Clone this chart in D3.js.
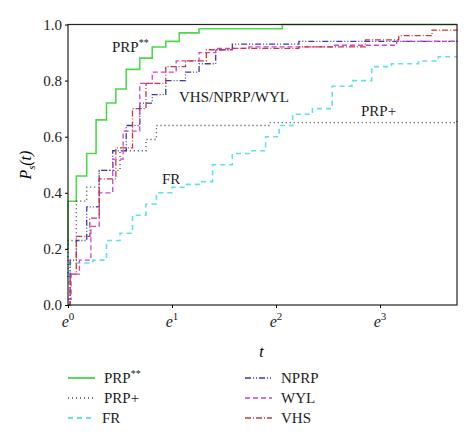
<!DOCTYPE html>
<html><head><meta charset="utf-8">
<script src="https://cdn.jsdelivr.net/npm/d3@7"></script>
<style>body{margin:0;background:#fff}text{font-family:"Liberation Serif","DejaVu Serif",serif}</style>
</head><body><svg id="chart"></svg>
<script>
// ln(t) values, and P_s(t) values
var prpX = [0,0,0.08,0.18,0.27,0.37,0.46,0.56,0.69,0.81,0.94,1.07,1.26,2.06,3.74];
var prpY = [0.2,0.37,0.46,0.54,0.66,0.72,0.77,0.84,0.88,0.92,0.94,0.97,0.985,1.0,1.0];
var plusX = [0,0,0.08,0.18,0.30,0.5,0.75,0.85,1.93,3.74];
var plusY = [0.1,0.23,0.37,0.42,0.48,0.55,0.59,0.64,0.65,0.657];
var frX = [0,0.02,0.08,0.24,0.37,0.5,0.62,0.75,0.85,1.0,1.13,1.26,1.39,1.52,1.58,1.77,1.9,2.03,2.16,2.35,2.54,2.73,2.92,3.11,3.37,3.56,3.74];
var frY = [0.08,0.15,0.15,0.16,0.23,0.256,0.32,0.36,0.4,0.42,0.43,0.44,0.5,0.5,0.54,0.55,0.6,0.64,0.68,0.7,0.78,0.8,0.85,0.86,0.87,0.885,0.885];
var nprpX = [0,0.02,0.08,0.18,0.30,0.43,0.56,0.69,0.81,0.94,1.13,1.26,1.42,1.58,2.22,3.16,3.74];
var nprpY = [0,0.16,0.23,0.35,0.48,0.55,0.64,0.72,0.75,0.8,0.83,0.86,0.91,0.93,0.94,0.94,0.945];
var wylX = [0,0.03,0.11,0.22,0.30,0.43,0.53,0.69,0.81,1.04,1.26,1.42,1.74,2.54,3.16,3.74];
var wylY = [0.02,0.11,0.16,0.28,0.4,0.52,0.62,0.79,0.83,0.87,0.9,0.915,0.92,0.926,0.94,0.945];
var vhsX = [0,0.02,0.08,0.21,0.30,0.46,0.62,0.75,0.94,1.13,1.33,1.58,2.22,2.86,3.18,3.5,3.74];
var vhsY = [0,0.11,0.245,0.31,0.45,0.56,0.7,0.79,0.85,0.87,0.91,0.915,0.92,0.945,0.96,0.98,0.982];
var yTicks = [0,0.2,0.4,0.6,0.8,1.0];
var xTicks = [0,1,2,3];

var series = [
  {name:"PRP", sup:"**", x:prpX, y:prpY, color:"#4ed84e", dash:null, w:1.6},
  {name:"PRP+", sup:"", x:plusX, y:plusY, color:"#444", dash:"1,3", w:1.3},
  {name:"FR", sup:"", x:frX, y:frY, color:"#5fe0ea", dash:"5,4", w:1.6},
  {name:"NPRP", sup:"", x:nprpX, y:nprpY, color:"#3a3aa8", dash:"6,2,1,2,1,2", w:1.3},
  {name:"WYL", sup:"", x:wylX, y:wylY, color:"#d040d0", dash:"5,3", w:1.3},
  {name:"VHS", sup:"", x:vhsX, y:vhsY, color:"#c83a3a", dash:"6,2,1,2", w:1.3}
];

var W = 474, H = 443;
var svg = d3.select("#chart").attr("width", W).attr("height", H);
var pLeft = 68, pRight = 457, pTop = 24.5, pBottom = 305;

var x = d3.scaleLinear().domain([0, 3.74]).range([pLeft, pRight]);
var y = d3.scaleLinear().domain([0, 1]).range([pBottom, pTop]);

// curves
var line = d3.line().x(function(d){return x(d[0]);}).y(function(d){return y(d[1]);}).curve(d3.curveStepAfter);
series.forEach(function(s) {
  svg.append("path")
    .datum(d3.zip(s.x, s.y))
    .attr("d", line)
    .attr("fill", "none")
    .attr("stroke", s.color)
    .attr("stroke-width", s.w)
    .attr("stroke-dasharray", s.dash);
});

// frame
svg.append("rect").attr("x", pLeft).attr("y", pTop).attr("width", pRight-pLeft).attr("height", pBottom-pTop)
  .attr("fill", "none").attr("stroke", "#222").attr("stroke-width", 1.2);

// y axis
var yAxis = d3.axisLeft(y).tickValues(yTicks).tickFormat(d3.format(".1f")).tickSize(3);
var gy = svg.append("g").attr("transform", "translate(" + pLeft + ",0)").call(yAxis);
gy.select(".domain").remove();
gy.selectAll("text").style("font-size", "15px").attr("fill", "#222");

// x axis with e^n labels
var xAxis = d3.axisBottom(x).tickValues(xTicks).tickFormat("").tickSize(3);
var gx = svg.append("g").attr("transform", "translate(0," + pBottom + ")").call(xAxis);
gx.select(".domain").remove();
xTicks.forEach(function(t) {
  var tx = svg.append("text").attr("x", x(t)).attr("y", pBottom + 22).attr("text-anchor", "middle")
    .style("font-size", "16px").style("font-style", "italic").attr("fill", "#222");
  tx.append("tspan").text("e");
  tx.append("tspan").attr("dy", -7).style("font-size", "11px").style("font-style", "normal").text(t);
});

svg.append("text").attr("x", x(1.86)).attr("y", 357).attr("text-anchor", "middle")
  .style("font-size", "16px").style("font-style", "italic").text("t");

var yl = svg.append("text").attr("transform", "translate(31,165) rotate(-90)").attr("text-anchor", "middle")
  .style("font-size", "16px").style("font-style", "italic");
yl.append("tspan").text("P");
yl.append("tspan").attr("dy", 4).style("font-size", "10px").text("s");
yl.append("tspan").attr("dy", -4).text("(t)");

// in-plot labels
function label(txt, sup, lx, ly) {
  var t = svg.append("text").attr("x", lx).attr("y", ly).style("font-size", "15px").attr("fill", "#222");
  t.append("tspan").text(txt);
  if (sup) t.append("tspan").attr("dy", -6).style("font-size", "10px").text(sup);
}
label("PRP", "**", 112, 52);
label("VHS/NPRP/WYL", "", 179, 102);
label("PRP+", "", 361, 116);
label("FR", "", 162, 184);

// legend
series.forEach(function(s, i) {
  var col = i < 3 ? 0 : 1, row = i % 3;
  var lx = col ? 245 : 68, ly = 378 + row * 20;
  svg.append("line").attr("x1", lx).attr("x2", lx + 27).attr("y1", ly).attr("y2", ly)
    .attr("stroke", s.color).attr("stroke-width", s.w + 0.3).attr("stroke-dasharray", s.dash);
  var t = svg.append("text").attr("x", i == 2 ? lx + 34 : lx + 36).attr("y", ly + 5).style("font-size", "15px").attr("fill", "#222");
  t.append("tspan").text(s.name);
  if (s.sup) t.append("tspan").attr("dy", -6).style("font-size", "10px").text(s.sup);
});
</script></body></html>
